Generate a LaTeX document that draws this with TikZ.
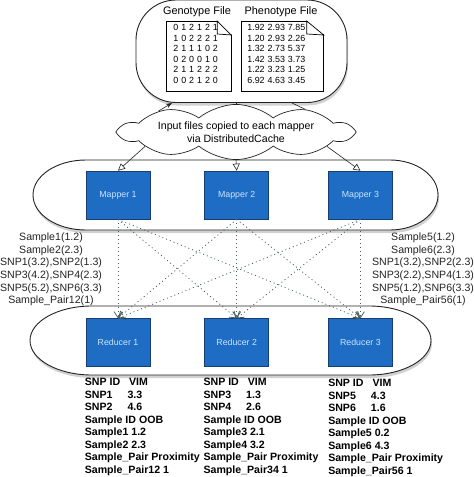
\documentclass[tikz,border=0pt]{standalone}
\usepackage{fontspec}
\setmainfont{Liberation Sans}
\usetikzlibrary{arrows.meta,positioning,shapes.symbols,shadows}
\definecolor{taskBlue}{RGB}{30,108,196}
\definecolor{taskEdge}{RGB}{22,62,112}
\definecolor{taskText}{RGB}{205,230,250}
\definecolor{dotInk}{RGB}{72,92,96}
\definecolor{softInk}{RGB}{35,35,35}
\tikzset{
  capsule/.style={draw=softInk, line width=0.9pt, fill=white, drop shadow={shadow xshift=1pt, shadow yshift=-3pt, opacity=0.18, fill=black}},
  taskbox/.style={draw=taskEdge, line width=0.7pt, fill=taskBlue, text=taskText, minimum width=64pt, minimum height=48pt, inner sep=0pt, font=\fontsize{8.8}{10}\selectfont},
  docbox/.style={draw=black, line width=0.7pt, fill=white, anchor=north west, minimum height=70pt, inner sep=0pt, font=\fontsize{8.9}{10.5}\selectfont},
  filetitle/.style={inner sep=0pt, font=\fontsize{10.9}{12}\selectfont},
  sidetext/.style={align=center, inner sep=0pt, text=softInk, font=\fontsize{10.6}{12.6}\selectfont},
  tabletext/.style={align=left, inner sep=0pt, font=\bfseries\fontsize{10.6}{12.5}\selectfont},
  copyflow/.style={-{Triangle[open, fill=white, length=7pt, width=7pt]}, draw=softInk, line width=0.6pt},
  cacheline/.style={draw=softInk, line width=0.6pt},
  shuffle/.style={-{Straight Barb[length=6pt, width=8pt]}, dash pattern=on 1pt off 3pt, draw=dotInk, line width=0.8pt}
}
\newcommand{\docfold}[3]{
  \fill[white] ([xshift=-#2pt, yshift=0.6pt]#1.north east) -- ([xshift=1pt, yshift=0.6pt]#1.north east) -- ([xshift=1pt, yshift=-#3pt]#1.north east) -- cycle;
  \draw[line width=0.7pt] ([xshift=-#2pt]#1.north east) -- ([yshift=-#3pt]#1.north east) -- ([xshift=-#2pt, yshift=-#3pt+1pt]#1.north east) -- cycle;
}
\begin{document}
\begin{tikzpicture}[x=1pt, y=-1pt, node distance=54pt]
  \useasboundingbox (0,0) rectangle (474,477);
  % input files
  \draw[capsule, rounded corners=40pt] (136,0) rectangle (347,102.5);
  \node[filetitle] (gtitle) at (197,12) {Genotype File};
  \node[filetitle] (ptitle) at (281,12) {Phenotype File};
  \node[docbox, minimum width=65pt, text width=60pt, align=left] (gdoc) at (165.5,21) {\hspace*{5pt}0 1 2 1 2 1\\ \hspace*{5pt}1 0 2 2 2 1\\ \hspace*{5pt}2 1 1 1 0 2\\ \hspace*{5pt}0 2 0 0 1 0\\ \hspace*{5pt}2 1 1 2 2 2\\ \hspace*{5pt}0 0 2 1 2 0\\[-5.5pt]\mbox{}};
  \node[docbox, minimum width=82pt, text width=78pt, align=left] (pdoc) at (241,21) {\hspace*{4pt}1.92 2.93 7.85\\ \hspace*{4pt}1.20 2.93 2.26\\ \hspace*{4pt}1.32 2.73 5.37\\ \hspace*{4pt}1.42 3.53 3.73\\ \hspace*{4pt}1.22 3.23 1.25\\ \hspace*{4pt}6.92 4.63 3.45\\[-5.5pt]\mbox{}};
  \docfold{gdoc}{14}{14}
  \docfold{pdoc}{17}{14}
  % mapper and reducer rows
  \draw[capsule] (86,160) -- (390,160) arc[x radius=48, y radius=35, start angle=-90, end angle=90] -- (86,230) arc[x radius=53, y radius=35, start angle=90, end angle=270] -- cycle;
  \draw[capsule] (92,306) -- (369,306) arc[x radius=62, y radius=34.5, start angle=-90, end angle=90] -- (92,375) arc[x radius=62, y radius=34.5, start angle=90, end angle=270] -- cycle;
  \node[taskbox] (m1) at (118,195) {Mapper 1};
  \node[taskbox, right=of m1] (m2) {Mapper 2};
  \node[taskbox, right=59pt of m2] (m3) {Mapper 3};
  \node[taskbox, below=99pt of m1] (r1) {Reducer 1};
  \node[taskbox, below=99pt of m2] (r2) {Reducer 2};
  \node[taskbox, below=99pt of m3] (r3) {Reducer 3};
  \node[draw=softInk, line width=0.7pt, fill=white, cloud, cloud puffs=10, cloud puff arc=80, aspect=5.2, minimum width=232pt, minimum height=44pt, inner xsep=-12pt, inner ysep=-8pt, align=center, font=\fontsize{10.6}{12.6}\selectfont] (cache) at (236,132) {Input files copied to each mapper\\via DistributedCache};
  % cache connectors
  \coordinate (gin) at (172,103);
  \coordinate (mid) at (236,103);
  \coordinate (pin) at (292,103);
  \draw[cacheline, -{Stealth[length=6pt]}] (cache.165) -- (gin);
  \draw[cacheline] (cache.north) -- (mid);
  \draw[cacheline] (cache.18) -- (pin);
  \draw[copyflow] (cache.189) -- (m1.north);
  \draw[copyflow] (cache.south) -- (m2.north);
  \draw[copyflow] (cache.351) -- (m3.north);
  % shuffle
  \foreach \from in {m1,m2,m3}
    \foreach \to in {r1,r2,r3}
      \draw[shuffle] (\from.south) -- (\to.north);
  \node[sidetext] (left) at (51,269.5) {Sample1(1.2)\\Sample2(2.3)\\SNP1(3.2),SNP2(1.3)\\SNP3(4.2),SNP4(2.3)\\SNP5(5.2),SNP6(3.3)\\Sample\_Pair12(1)};
  \node[sidetext] (right) at (423,269.5) {Sample5(1.2)\\Sample6(2.3)\\SNP1(3.2),SNP2(2.3)\\SNP3(2.2),SNP4(1.3)\\SNP5(1.2),SNP6(3.3)\\Sample\_Pair56(1)};
  % result tables
  \node[tabletext, below right=11pt and -1pt of r1.south west] (t1) {SNP ID\hspace{9pt}VIM\\SNP1\hspace{15pt}3.3\\SNP2\hspace{15pt}4.6\\Sample ID OOB\\Sample1 1.2\\Sample2 2.3\\Sample\_Pair Proximity\\Sample\_Pair12 1};
  \node[tabletext, below right=11pt and -1pt of r2.south west] (t2) {SNP ID\hspace{9pt}VIM\\SNP3\hspace{15pt}1.3\\SNP4\hspace{15pt}2.6\\Sample ID OOB\\Sample3 2.1\\Sample4 3.2\\Sample\_Pair Proximity\\Sample\_Pair34 1};
  \node[tabletext, below right=12pt and 0pt of r3.south west] (t3) {SNP ID\hspace{9pt}VIM\\SNP5\hspace{15pt}4.3\\SNP6\hspace{15pt}1.6\\Sample ID OOB\\Sample5 0.2\\Sample6 4.3\\Sample\_Pair Proximity\\Sample\_Pair56 1};
\end{tikzpicture}
\end{document}
